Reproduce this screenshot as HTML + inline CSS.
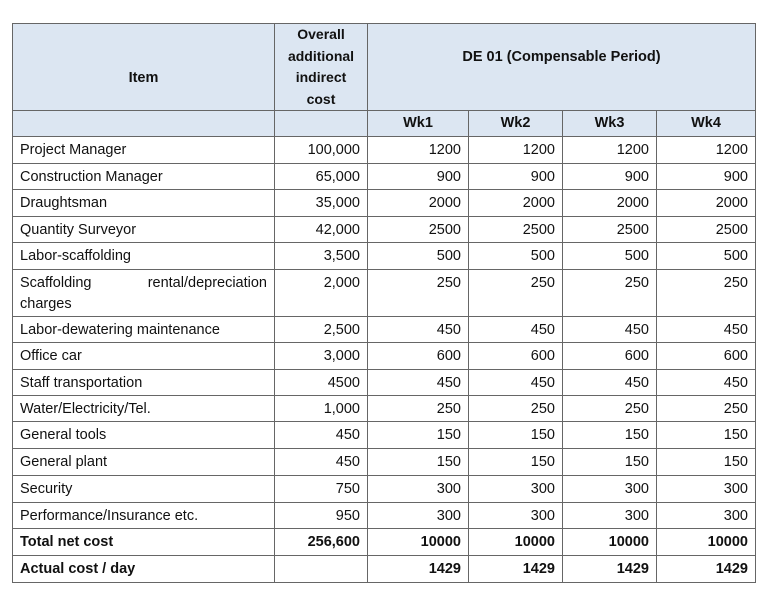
<!DOCTYPE html><html><head><style>
body{margin:0;width:768px;height:598px;background:#fff;position:relative;font-family:"Liberation Sans",sans-serif;font-size:14.5px;color:#111}
.c{position:absolute;box-sizing:border-box;border:1px solid #666;padding:0 7px;line-height:17px}
.h{background:#dce6f2;font-weight:bold;text-align:center;display:flex;align-items:center;justify-content:center}
.r{text-align:right;padding-top:5px}
.l{text-align:left;padding-top:5px}
.b{font-weight:bold}
</style></head><body>
<div class="c h" style="left:12px;top:23px;width:263px;height:88px;align-items:flex-start;padding-top:46px">Item</div>
<div class="c h" style="left:274px;top:23px;width:94px;height:88px;line-height:21.5px;font-size:14px;padding:0 2px">Overall<br>additional<br>indirect<br>cost</div>
<div class="c h" style="left:367px;top:23px;width:389px;height:88px;align-items:flex-start;padding-top:25px">DE 01 (Compensable Period)</div>
<div class="c h" style="left:12px;top:110px;width:263px;height:27px"></div>
<div class="c h" style="left:274px;top:110px;width:94px;height:27px"></div>
<div class="c h" style="left:367px;top:110px;width:102px;height:27px">Wk1</div>
<div class="c h" style="left:468px;top:110px;width:95px;height:27px">Wk2</div>
<div class="c h" style="left:562px;top:110px;width:95px;height:27px">Wk3</div>
<div class="c h" style="left:656px;top:110px;width:100px;height:27px">Wk4</div>
<div id="rows"></div>
<script>
var d=[["Project Manager","100,000",1200],["Construction Manager","65,000",900],["Draughtsman","35,000",2000],["Quantity Surveyor","42,000",2500],["Labor-scaffolding","3,500",500],["Scaffolding&nbsp;&nbsp;&nbsp;&nbsp;&nbsp; rental/depreciation charges","2,000",250],["Labor-dewatering maintenance","2,500",450],["Office car","3,000",600],["Staff transportation","4500",450],["Water/Electricity/Tel.","1,000",250],["General tools","450",150],["General plant","450",150],["Security","750",300],["Performance/Insurance etc.","950",300],["Total net cost","256,600",10000],["Actual cost / day","",1429]];
var ys=[136,163,189,216,242,269,316,342,369,395,421,448,475,502,528,555,582];
var cols=[[12,263],[274,94],[367,102],[468,95],[562,95],[656,100]];
var h="";
d.forEach(function(r,i){var y=ys[i],ht=ys[i+1]-y+1,bb=i>=14?" b":"";
var v=[r[0],r[1],r[2],r[2],r[2],r[2]];
cols.forEach(function(c,j){var st=j==0&&i==5?"text-align:justify;text-align-last:left;line-height:21px;padding-top:3px;":"";
h+='<div class="c '+(j==0?'l':'r')+bb+'" style="'+st+'left:'+c[0]+'px;top:'+y+'px;width:'+c[1]+'px;height:'+ht+'px">'+v[j]+'</div>';});});
document.getElementById("rows").innerHTML=h;
</script>
</body></html>
